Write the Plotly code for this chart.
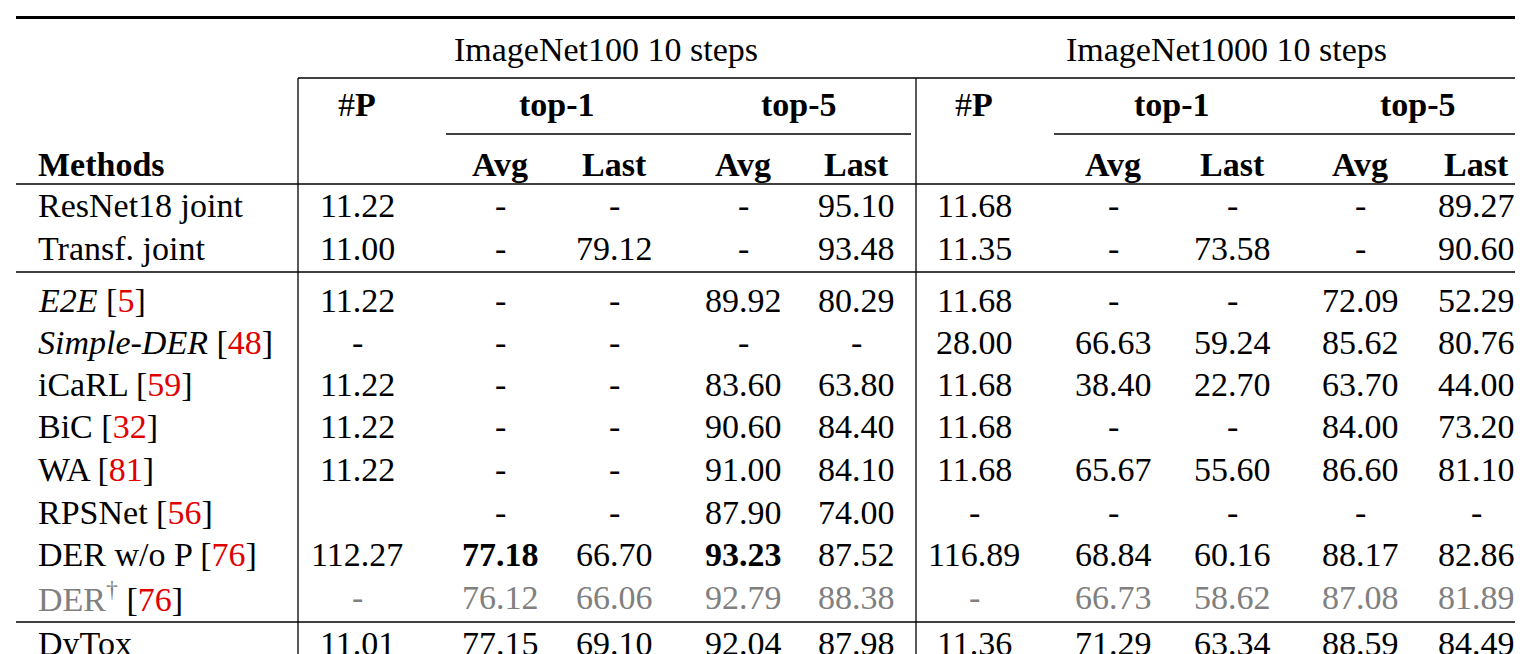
import plotly.graph_objects as go

RED = "<span style='color:#e00000'>%s</span>"

methods = ["ResNet18 joint", "Transf. joint",
           "<i>E2E</i> [" + RED % "5" + "]", "<i>Simple-DER</i> [" + RED % "48" + "]",
           "iCaRL [" + RED % "59" + "]", "BiC [" + RED % "32" + "]", "WA [" + RED % "81" + "]",
           "RPSNet [" + RED % "56" + "]", "DER w/o P [" + RED % "76" + "]",
           "<span style='color:#808080'>DER<sup>†</sup></span> [" + RED % "76" + "]", "DyTox"]
in100_p = ["11.22", "11.00", "11.22", "-", "11.22", "11.22", "11.22", "", "112.27", "-", "11.01"]
in100_t1_avg = ["-", "-", "-", "-", "-", "-", "-", "-", "<b>77.18</b>", "76.12", "77.15"]
in100_t1_last = ["-", "79.12", "-", "-", "-", "-", "-", "-", "66.70", "66.06", "69.10"]
in100_t5_avg = ["-", "-", "89.92", "-", "83.60", "90.60", "91.00", "87.90", "<b>93.23</b>", "92.79", "92.04"]
in100_t5_last = ["95.10", "93.48", "80.29", "-", "63.80", "84.40", "84.10", "74.00", "87.52", "88.38", "87.98"]
in1k_p = ["11.68", "11.35", "11.68", "28.00", "11.68", "11.68", "11.68", "-", "116.89", "-", "11.36"]
in1k_t1_avg = ["-", "-", "-", "66.63", "38.40", "-", "65.67", "-", "68.84", "66.73", "71.29"]
in1k_t1_last = ["-", "73.58", "-", "59.24", "22.70", "-", "55.60", "-", "60.16", "58.62", "63.34"]
in1k_t5_avg = ["-", "-", "72.09", "85.62", "63.70", "84.00", "86.60", "-", "88.17", "87.08", "88.59"]
in1k_t5_last = ["89.27", "90.60", "52.29", "80.76", "44.00", "73.20", "81.10", "-", "82.86", "81.89", "84.49"]

row_y = [189, 232, 284, 326, 368, 410, 453, 496, 538, 581, 627]
col_x = [341, 484, 598, 727, 840, 958, 1097, 1216, 1344, 1460]
columns = [in100_p, in100_t1_avg, in100_t1_last, in100_t5_avg, in100_t5_last,
           in1k_p, in1k_t1_avg, in1k_t1_last, in1k_t5_avg, in1k_t5_last]
gray_row = 9

FONT = dict(family="Liberation Serif", size=34, color="black")

fig = go.Figure()
anns = []
def txt(x, y, s, anchor="center", color="black"):
    if not s:
        return
    anns.append(dict(x=x, y=y, text=s, showarrow=False, xanchor=anchor, yanchor="middle",
                     font=dict(FONT, color=color), xref="x", yref="y"))

# headers
txt(590, 33, "ImageNet100 10 steps")
txt(1210, 33, "ImageNet1000 10 steps")
for px, t1x, t5x in [(341, 541, 783), (958, 1156, 1402)]:
    txt(px, 88, "#<b>P</b>")
    txt(t1x, 88, "<b>top-1</b>")
    txt(t5x, 88, "<b>top-5</b>")
for i, x in enumerate(col_x):
    if i % 5 == 0:
        continue
    txt(x, 148, "<b>Avg</b>" if i % 5 in (1, 3) else "<b>Last</b>")
txt(20, 148, "<b>Methods</b>", anchor="left")

for r, y in enumerate(row_y):
    txt(20, y, methods[r], anchor="left")
    for c, x in enumerate(columns):
        txt(col_x[c], y, x[r], color="#808080" if r == gray_row else "black")

fig.update_layout(annotations=anns)

shapes = []
def hline(x0, x1, y, w=1.3):
    shapes.append(dict(type="line", x0=x0, x1=x1, y0=y, y1=y, line=dict(color="black", width=w)))
def vline(x, y0, y1, w=1.3):
    shapes.append(dict(type="line", x0=x, x1=x, y0=y0, y1=y1, line=dict(color="black", width=w)))

hline(0, 1523, 1.5, 3)
hline(282, 1523, 62)
hline(430, 895, 118)
hline(1038, 1518, 118)
hline(0, 1523, 168)
hline(0, 1523, 256)
hline(0, 1523, 606)
hline(0, 1523, 651)
vline(282, 62, 651)
vline(900, 62, 651)
fig.update_layout(shapes=shapes)

# page body has an 8px margin, so shift the ranges to line up with the window
fig.update_xaxes(range=[-8, 1515], visible=False)
fig.update_yaxes(range=[646, -8], visible=False)
fig.update_layout(width=1523, height=654, margin=dict(l=0, r=0, t=0, b=0),
                  plot_bgcolor="white", paper_bgcolor="white", showlegend=False)
fig.write_html("out.html")
